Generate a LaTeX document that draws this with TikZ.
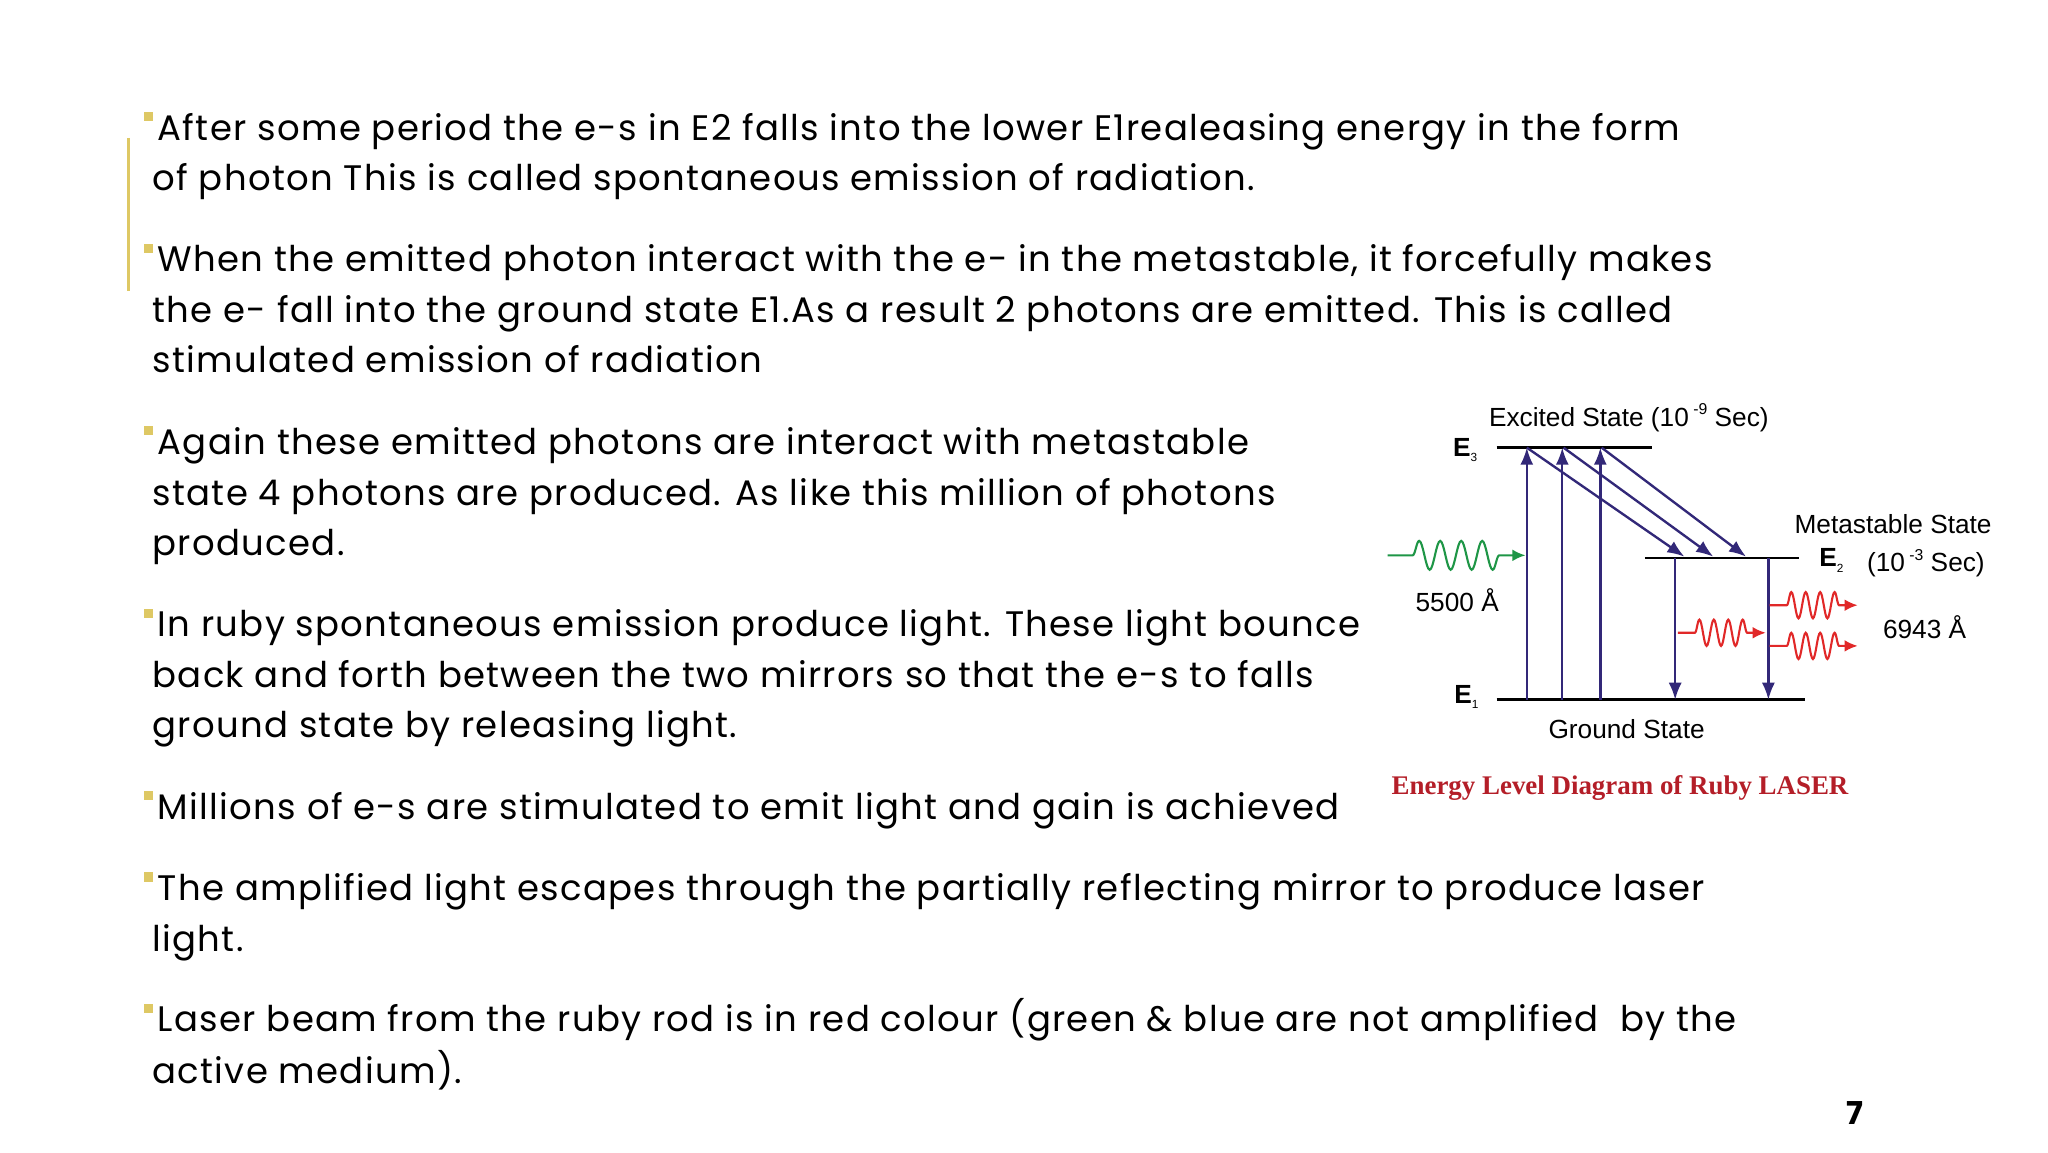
\documentclass[tikz,border=0pt]{standalone}
\usepackage{fontspec}
\setmainfont{Poppins}[LetterSpace=3.7]
\newfontfamily\diag{Liberation Sans}
\newfontfamily\capf{Liberation Serif}
\usetikzlibrary{arrows.meta,decorations.pathmorphing}
\definecolor{bul}{RGB}{222,200,100}
\definecolor{navy}{RGB}{50,40,120}
\definecolor{wgreen}{RGB}{30,150,70}
\definecolor{wred}{RGB}{225,40,40}
\definecolor{capred}{RGB}{180,30,40}
\begin{document}
\begin{tikzpicture}[x=1pt,y=-1pt,
  txt/.style={anchor=base west,inner sep=0pt,font=\fontsize{27}{30}\selectfont},
  bsq/.style={fill=bul,draw=none,minimum size=7pt,inner sep=0pt},
  lvl/.style={line width=2.2pt,black},
  tr/.style={line width=1.8pt,navy,-{Latex[length=13pt,width=10pt]}},
  dl/.style={anchor=center,inner sep=0pt,font=\diag\fontsize{20}{24}\selectfont},
  wg/.style={line width=1.6pt,wgreen,-{Latex[length=10pt,width=9pt]}},
  wr/.style={line width=1.6pt,wred,-{Latex[length=10pt,width=9pt]}}]
\useasboundingbox (0,0) rectangle (1560,878);
\fill[white] (0,0) rectangle (1560,878);
% yellow side bar
\draw[bul,line width=2pt] (98,105) -- (98,222);
% bullets
\foreach \y/\n in {89/a,189/b,328/c,467/d,606/e,668/f,768/g}
  \node[bsq] (bul\n) at (113,\y) {};
% text lines
\node[txt] (t1) at (120,107) {After some period the e-s in E2 falls into the lower E1realeasing energy in the form};
\node[txt] (t2) at (116,145) {of photon This is called spontaneous emission of radiation.};
\node[txt] (t3) at (120,207) {When the emitted photon interact with the e- in the metastable, it forcefully makes};
\node[txt] (t4) at (116,246) {the e- fall into the ground state E1.As a result 2 photons are emitted. This is called};
\node[txt] (t5) at (116,284) {stimulated emission of radiation};
\node[txt] (t6) at (120,346) {Again these emitted photons are interact with metastable};
\node[txt] (t7) at (116,385) {state 4 photons are produced. As like this million of photons};
\node[txt] (t8) at (116,423) {produced.};
\node[txt] (t9) at (120,485) {In ruby spontaneous emission produce light. These light bounce};
\node[txt] (t10) at (116,524) {back and forth between the two mirrors so that the e-s to falls};
\node[txt] (t11) at (116,562) {ground state by releasing light.};
\node[txt] (t12) at (120,624) {Millions of e-s are stimulated to emit light and gain is achieved};
\node[txt] (t13) at (120,686) {The amplified light escapes through the partially reflecting mirror to produce laser};
\node[txt] (t14) at (116,725) {light.};
\node[txt] (t15) at (120,786) {Laser beam from the ruby rod is in red colour (green \& blue are not amplified\ \ by the};
\node[txt] (t16) at (116,825) {active medium).};
\node[anchor=center,inner sep=0pt,font=\bfseries\fontsize{24}{28}\selectfont] (pg) at (1413,848) {7};
% ---- diagram ----
\coordinate (e3a) at (1140,341); \coordinate (e3b) at (1258,341);
\coordinate (e2a) at (1253,425); \coordinate (e2b) at (1370,425);
\coordinate (e1a) at (1140,533); \coordinate (e1b) at (1375,533);
\draw[lvl] (e3a) -- (e3b);
\draw[lvl] (e2a) -- (e2b);
\draw[lvl] (e1a) -- (e1b);
\node[dl] (le3) at (1116,343) {\textbf{E}\raisebox{-4pt}{\fontsize{9}{9}\selectfont 3}};
\node[dl] (le1) at (1117,531) {\textbf{E}\raisebox{-4pt}{\fontsize{9}{9}\selectfont 1}};
\node[dl] (le2) at (1395,427) {\textbf{E}\raisebox{-4pt}{\fontsize{9}{9}\selectfont 2}};
\node[dl,anchor=west] (exc) at (1134,318) {Excited State (10\,\raisebox{9pt}{\fontsize{12}{12}\selectfont -9}\ Sec)};
\node[dl,anchor=west] (sec2) at (1422,429) {(10\,\raisebox{9pt}{\fontsize{12}{12}\selectfont -3}\ Sec)};
\node[dl] (meta) at (1442,399) {Metastable State};
\node[dl] (gs) at (1239,555) {Ground State};
\node[dl] (l55) at (1110,457) {5500 Å};
\node[dl] (l69) at (1466,478) {6943 Å};
\node[anchor=center,inner sep=0pt,text=capred,font=\capf\bfseries\fontsize{20.5}{24}\selectfont] (cap) at (1234,600) {Energy Level Diagram of Ruby LASER};
% pumping arrows
\foreach \x/\n in {1163/a,1190/b,1219/c}{
  \coordinate (u\n0) at (\x,533); \coordinate (u\n1) at (\x,341);
  \draw[tr] (u\n0) -- (u\n1);}
% non-radiative decay
\foreach \x/\xe/\n in {1163/1283/a,1191/1305/b,1220/1330/c}{
  \coordinate (d\n0) at (\x,341); \coordinate (d\n1) at (\xe,424);
  \draw[tr] (d\n0) -- (d\n1);}
% radiative transitions
\foreach \x/\n in {1276/a,1347/b}{
  \coordinate (r\n0) at (\x,425); \coordinate (r\n1) at (\x,533);
  \draw[tr] (r\n0) -- (r\n1);}
% waves
\coordinate (g0) at (1057,423); \coordinate (g1) at (1162,423);
\draw[wg,decorate,decoration={snake,amplitude=11pt,segment length=16pt,pre length=19pt,post length=20pt}] (g0) -- (g1);
\coordinate (m0) at (1278,482); \coordinate (m1) at (1345,482);
\draw[wr,decorate,decoration={snake,amplitude=10pt,segment length=11pt,pre length=13pt,post length=12pt}] (m0) -- (m1);
\coordinate (p0) at (1348,461); \coordinate (p1) at (1415,461);
\draw[wr,decorate,decoration={snake,amplitude=10pt,segment length=11pt,pre length=13pt,post length=12pt}] (p0) -- (p1);
\coordinate (q0) at (1348,492); \coordinate (q1) at (1415,492);
\draw[wr,decorate,decoration={snake,amplitude=10pt,segment length=11pt,pre length=13pt,post length=12pt}] (q0) -- (q1);
\end{tikzpicture}
\end{document}
